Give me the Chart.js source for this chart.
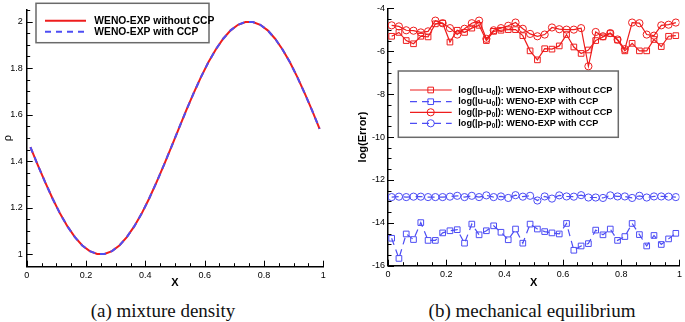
<!DOCTYPE html>
<html lang="en">
<head>
<meta charset="UTF-8" />
<title>WENO-EXP with and without CCP</title>
<script src="https://cdn.jsdelivr.net/npm/chart.js"></script>
<style>
  body { margin: 0; background: #fff; width: 685px; height: 322px; position: relative; overflow: hidden; }
  canvas { position: absolute; top: 0; }
  #left { left: 0; }
  #right { left: 345px; }
  .caption {
    position: absolute; top: 300px; width: 300px; text-align: center;
    font-family: 'Liberation Serif', 'Times New Roman', serif; font-size: 19px; color: #111;
  }
</style>
</head>
<body>
<canvas id="left" width="335" height="290"></canvas>
<canvas id="right" width="340" height="290"></canvas>
<div class="caption" style="left:13px">(a) mixture density</div>
<div class="caption" style="left:382px">(b) mechanical equilibrium</div>

<script>
// cell centres
const xs = [0.0125, 0.0375, 0.0625, 0.0875, 0.1125, 0.1375, 0.1625, 0.1875, 0.2125, 0.2375,
            0.2625, 0.2875, 0.3125, 0.3375, 0.3625, 0.3875, 0.4125, 0.4375, 0.4625, 0.4875,
            0.5125, 0.5375, 0.5625, 0.5875, 0.6125, 0.6375, 0.6625, 0.6875, 0.7125, 0.7375,
            0.7625, 0.7875, 0.8125, 0.8375, 0.8625, 0.8875, 0.9125, 0.9375, 0.9625, 0.9875];

// (a) density
const rhoNoCCP = [1.461, 1.383, 1.309, 1.239, 1.175, 1.120, 1.074, 1.038, 1.014, 1.002,
                  1.002, 1.014, 1.038, 1.074, 1.120, 1.175, 1.239, 1.309, 1.383, 1.461,
                  1.539, 1.617, 1.691, 1.761, 1.825, 1.880, 1.926, 1.962, 1.986, 1.998,
                  1.998, 1.986, 1.962, 1.926, 1.880, 1.825, 1.761, 1.691, 1.617, 1.539];
const rhoCCP   = [1.461, 1.383, 1.309, 1.239, 1.175, 1.120, 1.074, 1.038, 1.014, 1.002,
                  1.002, 1.014, 1.038, 1.074, 1.120, 1.175, 1.239, 1.309, 1.383, 1.461,
                  1.539, 1.617, 1.691, 1.761, 1.825, 1.880, 1.926, 1.962, 1.986, 1.998,
                  1.998, 1.986, 1.962, 1.926, 1.880, 1.825, 1.761, 1.691, 1.617, 1.539];

// (b) log errors
const uNoCCP = [-5.30, -5.12, -5.50, -5.65, -5.30, -5.33, -4.72, -4.69, -5.57, -5.02,
                -5.12, -4.92, -4.79, -5.50, -5.07, -5.02, -4.99, -4.99, -5.27, -5.98,
                -6.40, -5.88, -5.90, -5.75, -5.22, -5.80, -6.10, -5.94, -5.50, -5.33,
                -5.17, -5.48, -5.98, -5.63, -5.98, -5.98, -5.45, -5.78, -5.30, -5.27];
const uCCP   = [-14.72, -15.66, -14.52, -14.78, -13.99, -14.82, -14.82, -14.47, -14.37, -14.32,
                -14.95, -14.06, -14.56, -14.37, -14.14, -14.44, -14.79, -14.29, -14.95, -14.06,
                -14.29, -14.41, -14.47, -14.52, -14.03, -15.28, -15.08, -14.97, -14.34, -14.56,
                -14.29, -14.82, -14.64, -14.03, -14.55, -15.08, -14.59, -15.01, -14.75, -14.49];
const pNoCCP = [-4.79, -4.84, -5.02, -5.04, -5.12, -5.07, -4.57, -4.69, -4.92, -5.22,
                -4.95, -4.69, -4.57, -5.42, -5.02, -4.92, -4.81, -4.66, -4.95, -5.19,
                -5.30, -5.22, -4.89, -4.97, -4.99, -4.99, -4.92, -6.70, -5.10, -5.30,
                -5.15, -5.45, -5.90, -4.66, -4.69, -5.22, -5.27, -4.79, -4.76, -4.66];
const pCCP   = [-12.80, -12.78, -12.80, -12.78, -12.78, -12.80, -12.80, -12.80, -12.78, -12.74,
                -12.80, -12.74, -12.80, -12.72, -12.80, -12.77, -12.84, -12.71, -12.78, -12.74,
                -12.96, -12.77, -12.87, -12.72, -12.77, -12.78, -12.71, -12.82, -12.82, -12.84,
                -12.72, -12.77, -12.77, -12.84, -12.74, -12.82, -12.77, -12.77, -12.78, -12.80];

const xTicks = [0, 0.2, 0.4, 0.6, 0.8, 1];
const xTickLabels = ['0', '0.2', '0.4', '0.6', '0.8', '1'];
const rhoTicks = [1, 1.2, 1.4, 1.6, 1.8, 2];
const rhoTickLabels = ['1', '1.2', '1.4', '1.6', '1.8', '2'];
const errTicks = [-16, -14, -12, -10, -8, -6, -4];
const errTickLabels = ['-16', '-14', '-12', '-10', '-8', '-6', '-4'];

const RED = '#ee1d1d';
const BLUE = '#4d4df4';
const FONT = "'Liberation Sans', Arial, sans-serif";

Chart.defaults.font.family = FONT;
Chart.defaults.font.size = 9;
Chart.defaults.color = '#000';

const pts = ys => xs.map((x, i) => ({ x: x, y: ys[i] }));

function drawMarker(ctx, style, x, y, r, color, w) {
  ctx.strokeStyle = color;
  ctx.lineWidth = w;
  ctx.setLineDash([]);
  ctx.beginPath();
  if (style === 'rect') {
    const s = r * Math.SQRT1_2;
    ctx.rect(x - s, y - s, 2 * s, 2 * s);
  } else {
    ctx.arc(x, y, r, 0, Math.PI * 2);
  }
  ctx.stroke();
}

// tecplot style ticks pointing into the plot
const innerTicks = {
  id: 'innerTicks',
  afterDatasetsDraw(chart, args, o) {
    const { ctx, chartArea } = chart;
    const sx = chart.scales.x, sy = chart.scales.y;
    ctx.save();
    ctx.strokeStyle = '#000';
    ctx.lineWidth = 1;
    ctx.beginPath();
    const run = (scale, step, fn) => {
      for (let k = Math.ceil(scale.min / step - 1e-9); k * step <= scale.max + 1e-9; k++) {
        const v = k * step;
        const major = scale.ticks.some(t => Math.abs(t.value - v) < 1e-6);
        fn(Math.round(scale.getPixelForValue(v)) + 0.5, major ? 6 : 3.5);
      }
    };
    run(sx, o.xMinor, (p, len) => { ctx.moveTo(p, chartArea.bottom); ctx.lineTo(p, chartArea.bottom - len); });
    run(sy, o.yMinor, (p, len) => { ctx.moveTo(chartArea.left, p); ctx.lineTo(chartArea.left + len, p); });
    ctx.stroke();
    ctx.restore();
  }
};

// boxed legend with line samples and markers
const boxLegend = {
  id: 'boxLegend',
  afterDraw(chart, args, o) {
    const ctx = chart.ctx;
    const [bx, by, bw, bh] = o.box;
    ctx.save();
    ctx.fillStyle = '#fff';
    ctx.fillRect(bx, by, bw, bh);
    ctx.strokeStyle = '#6a6a6a';
    ctx.lineWidth = 1.5;
    ctx.strokeRect(bx, by, bw, bh);
    chart.data.datasets.forEach((ds, i) => {
      const y = o.rowY[i];
      ctx.strokeStyle = ds.borderColor;
      ctx.lineWidth = ds.borderWidth;
      ctx.setLineDash(ds.borderDash || []);
      ctx.beginPath();
      ctx.moveTo(o.lineX[0], y);
      ctx.lineTo(o.lineX[1], y);
      ctx.stroke();
      if (ds.pointRadius > 0) {
        drawMarker(ctx, ds.pointStyle, o.markX, y, ds.pointRadius, ds.pointBorderColor, ds.pointBorderWidth);
      }
      ctx.fillStyle = '#000';
      ctx.textAlign = 'left';
      ctx.textBaseline = 'middle';
      let x = o.textX;
      ds.label.split(/_(.)/).forEach((part, k) => {
        const sub = k % 2 === 1;
        ctx.font = 'bold ' + (sub ? o.fontSize * 0.7 : o.fontSize) + 'px ' + FONT;
        ctx.fillText(part, x, y + (sub ? 3 : 0));
        x += ctx.measureText(part).width;
      });
    });
    ctx.restore();
  }
};

function xScale(height) {
  return {
    type: 'linear', min: 0, max: 1,
    afterFit: s => { s.height = height; },
    afterBuildTicks: s => { s.ticks = xTicks.map(v => ({ value: v })); },
    ticks: { autoSkip: false, maxRotation: 0, padding: 3, callback: (v, i) => xTickLabels[i] },
    grid: { display: false, drawTicks: false },
    border: { display: true, color: '#000', width: 1.5 },
    title: { display: true, text: 'X', font: { size: 11, weight: 'bold' }, padding: 0 }
  };
}

// (a) mixture density
new Chart(document.getElementById('left'), {
  type: 'line',
  data: {
    datasets: [
      { label: 'WENO-EXP without CCP', data: pts(rhoNoCCP), borderColor: RED, borderWidth: 2,
        pointRadius: 0, order: 2 },
      { label: 'WENO-EXP with CCP', data: pts(rhoCCP), borderColor: BLUE, borderWidth: 2,
        borderDash: [6, 5], pointRadius: 0, order: 1 }
    ]
  },
  options: {
    responsive: false,
    animation: false,
    layout: { padding: { top: 3.3, right: 11.7, left: 0, bottom: 0 } },
    scales: {
      x: xScale(23.3),
      y: {
        type: 'linear', min: 0.947, max: 2.052,
        afterFit: s => { s.width = 26.7; },
        afterBuildTicks: s => { s.ticks = rhoTicks.map(v => ({ value: v })); },
        ticks: { padding: 4, callback: (v, i) => rhoTickLabels[i] },
        grid: { display: false, drawTicks: false },
        border: { display: true, color: '#000', width: 1.5 },
        title: { display: true, text: 'ρ', font: { size: 11 }, padding: 1 }
      }
    },
    plugins: {
      legend: { display: false },
      tooltip: { enabled: false },
      innerTicks: { xMinor: 0.05, yMinor: 0.05 },
      boxLegend: { box: [36, 3.3, 173, 39.4], lineX: [45, 86], markX: 65.5, textX: 94.3,
                   rowY: [20.7, 31.7], fontSize: 10.3 }
    }
  },
  plugins: [innerTicks, boxLegend]
});

// (b) mechanical equilibrium
new Chart(document.getElementById('right'), {
  type: 'line',
  data: {
    datasets: [
      { label: 'log(|u-u_0|): WENO-EXP without CCP', data: pts(uNoCCP), borderColor: RED, borderWidth: 1.2,
        pointStyle: 'rect', pointRadius: 4, pointBorderColor: RED, pointBorderWidth: 1,
        pointBackgroundColor: 'rgba(0,0,0,0)' },
      { label: 'log(|u-u_0|): WENO-EXP with CCP', data: pts(uCCP), borderColor: BLUE, borderWidth: 1.2,
        borderDash: [7, 5], pointStyle: 'rect', pointRadius: 4, pointBorderColor: BLUE, pointBorderWidth: 1,
        pointBackgroundColor: 'rgba(0,0,0,0)' },
      { label: 'log(|p-p_0|): WENO-EXP without CCP', data: pts(pNoCCP), borderColor: RED, borderWidth: 1.2,
        pointStyle: 'circle', pointRadius: 3.6, pointBorderColor: RED, pointBorderWidth: 1,
        pointBackgroundColor: 'rgba(0,0,0,0)' },
      { label: 'log(|p-p_0|): WENO-EXP with CCP', data: pts(pCCP), borderColor: BLUE, borderWidth: 1.2,
        borderDash: [7, 5], pointStyle: 'circle', pointRadius: 3.6, pointBorderColor: BLUE, pointBorderWidth: 1,
        pointBackgroundColor: 'rgba(0,0,0,0)' }
    ]
  },
  options: {
    responsive: false,
    animation: false,
    layout: { padding: { top: 3.3, right: 0.7, left: 0, bottom: 0 } },
    scales: {
      x: xScale(24.3),
      y: {
        type: 'linear', min: -16, max: -4,
        afterFit: s => { s.width = 43; },
        afterBuildTicks: s => { s.ticks = errTicks.map(v => ({ value: v })); },
        ticks: { padding: 3, callback: (v, i) => errTickLabels[i] },
        grid: { display: false, drawTicks: false },
        border: { display: true, color: '#000', width: 1.5 },
        title: { display: true, text: 'log(Error)', font: { size: 11, weight: 'bold' }, padding: 11 }
      }
    },
    plugins: {
      legend: { display: false },
      tooltip: { enabled: false },
      innerTicks: { xMinor: 0.05, yMinor: 0.5 },
      boxLegend: { box: [53.3, 71, 220, 66.3], lineX: [65, 106.7], markX: 85.7, textX: 113.3,
                   rowY: [90, 101.7, 112.3, 123.3], fontSize: 9.1 }
    }
  },
  plugins: [innerTicks, boxLegend]
});
</script>
</body>
</html>
